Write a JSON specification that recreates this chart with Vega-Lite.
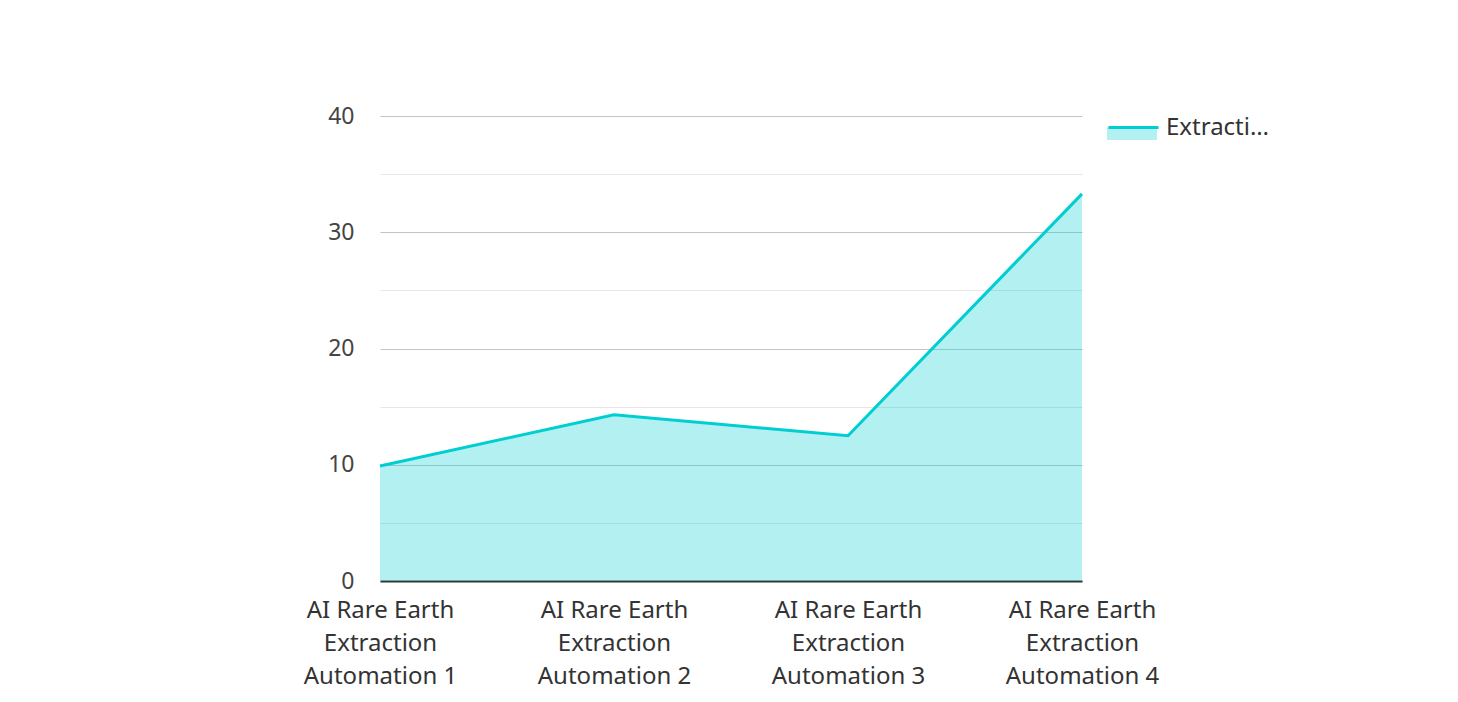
{
  "$schema": "https://vega.github.io/schema/vega-lite/v6.json",
  "width": 702,
  "height": 465,
  "autosize": {"type": "none"},
  "padding": {"left": 380, "top": 116, "right": 376, "bottom": 121},
  "background": "white",
  "config": {
    "font": "Noto Sans",
    "view": {"stroke": null}
  },
  "data": {
    "values": [
      {"item": "AI Rare Earth Extraction Automation 1", "series": "Extraction Rate", "value": 9.9},
      {"item": "AI Rare Earth Extraction Automation 2", "series": "Extraction Rate", "value": 14.3},
      {"item": "AI Rare Earth Extraction Automation 3", "series": "Extraction Rate", "value": 12.5},
      {"item": "AI Rare Earth Extraction Automation 4", "series": "Extraction Rate", "value": 33.3}
    ]
  },
  "encoding": {
    "x": {
      "field": "item",
      "type": "ordinal",
      "scale": {"type": "point", "padding": 0},
      "sort": null,
      "axis": {
        "title": null,
        "labelAngle": 0,
        "labelFontSize": 24,
        "labelColor": "#333333",
        "labelLineHeight": 33,
        "labelPadding": 17,
        "labelLimit": 300,
        "labelExpr": "[slice(datum.label,0,13), slice(datum.label,14,24), slice(datum.label,25)]",
        "ticks": false,
        "domain": true,
        "domainColor": "#333333",
        "domainWidth": 2,
        "grid": false
      }
    },
    "y": {
      "field": "value",
      "type": "quantitative",
      "scale": {"domain": [0, 40], "nice": false},
      "axis": {
        "title": null,
        "values": [0, 5, 10, 15, 20, 25, 30, 35, 40],
        "labelExpr": "datum.value % 10 === 0 ? datum.label : ''",
        "labelFontSize": 23,
        "labelColor": "#444444",
        "labelPadding": 26,
        "ticks": false,
        "domain": false,
        "grid": true,
        "gridColor": {"condition": {"test": "datum.value % 10 === 0", "value": "#c4c4c4"}, "value": "#e6e6e6"},
        "gridWidth": 1.2
      }
    }
  },
  "layer": [
    {
      "mark": {"type": "area", "opacity": 0.3},
      "encoding": {
        "fill": {
          "field": "series",
          "type": "nominal",
          "scale": {"range": ["#00CED1"]},
          "legend": {
            "title": null,
            "orient": "none",
            "legendX": 727,
            "legendY": -15,
            "symbolType": "M-1,0.04H1V0.56H-1Z",
            "symbolSize": 2500,
            "symbolOpacity": 0.3,
            "symbolStrokeWidth": 0,
            "labelFontSize": 24,
            "labelExpr": "''",
            "labelOffset": 6
          }
        }
      }
    },
    {
      "mark": {"type": "line", "strokeWidth": 3},
      "encoding": {
        "stroke": {
          "field": "series",
          "type": "nominal",
          "scale": {"range": ["#00CED1"]},
          "legend": {
            "title": null,
            "orient": "none",
            "legendX": 727,
            "legendY": -15,
            "symbolType": "M-1,0H1",
            "symbolSize": 2500,
            "symbolStrokeWidth": 3,
            "labelFontSize": 24,
            "labelColor": "#333333",
            "labelLimit": 106,
            "labelOffset": 6
          }
        }
      }
    }
  ]
}
